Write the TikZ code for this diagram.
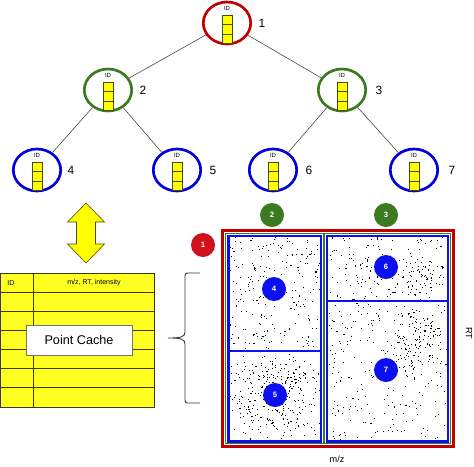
\documentclass[tikz,border=0pt]{standalone}
\usepackage{fontspec}
\setmainfont{Liberation Sans}
\usetikzlibrary{positioning, shapes.geometric}
\usepackage{xcolor}

\definecolor{rootred}{HTML}{C00000}
\definecolor{innergreen}{HTML}{3B7A1F}
\definecolor{leafblue}{HTML}{0000DD}
\definecolor{cellyellow}{HTML}{FFFF00}
\definecolor{celledge}{HTML}{4A4A00}
\definecolor{tableyellow}{HTML}{FFFF22}
\definecolor{badgered}{HTML}{D0101A}
\definecolor{mapblue}{HTML}{0A10F0}

\begin{document}
\begin{tikzpicture}[
    x=0.5mm, y=-0.5mm,
    tree node/.style={ellipse, draw, line width=3.8pt, fill=white, minimum width=23.7mm, minimum height=21mm, inner sep=0pt},
    root node/.style={tree node, draw=rootred},
    inner node/.style={tree node, draw=innergreen},
    leaf node/.style={tree node, draw=leafblue},
    tree label/.style={font=\fontsize{17}{18}\selectfont},
    tree edge/.style={draw=black!75, line width=0.8pt},
    cell/.style={draw=celledge, fill=cellyellow, line width=0.6pt},
    table line/.style={draw=celledge!80!black, line width=1pt},
    badge/.style={circle, minimum size=12mm, inner sep=0pt, text=white, font=\bfseries\fontsize{11}{12}\selectfont},
    badge red/.style={badge, fill=badgered},
    badge green/.style={badge, fill=innergreen},
    badge blue/.style={badge, fill=mapblue},
    region/.style={draw=mapblue, line width=4pt},
    dot/.style={fill=black}
]
    \useasboundingbox (0,0) rectangle (474,466);

    % --- Tree ---
    \node[root node]  (N1) at (227,23) {};
    \node[inner node] (N2) at (108,90) {};
    \node[inner node] (N3) at (342,90) {};
    \node[leaf node]  (N4) at (37,170) {};
    \node[leaf node]  (N5) at (177,170) {};
    \node[leaf node]  (N6) at (273,170) {};
    \node[leaf node]  (N7) at (414,170) {};

    \draw[tree edge] (N1) -- (N2);
    \draw[tree edge] (N1) -- (N3);
    \draw[tree edge] (N2) -- (N4);
    \draw[tree edge] (N2) -- (N5);
    \draw[tree edge] (N3) -- (N6);
    \draw[tree edge] (N3) -- (N7);

    \foreach \n in {N1,N2,N3,N4,N5,N6,N7} {
        \node[font=\fontsize{8.5}{9}\selectfont, inner sep=0pt] (\n id) at ([yshift=7.5mm]\n.center) {ID};
        \foreach \k in {0,1,2}
            \draw[cell] (\n.center) ++(-5,{-8+9.4*\k}) rectangle ++(10,9.4);
    }

    \node[tree label] (L1) at (262,23) {1};
    \node[tree label] (L2) at (143,90) {2};
    \node[tree label] (L3) at (379,90) {3};
    \node[tree label] (L4) at (71,170) {4};
    \node[tree label] (L5) at (213,170) {5};
    \node[tree label] (L6) at (309,170) {6};
    \node[tree label] (L7) at (452,170) {7};

    % --- Double arrow ---
    \draw[fill=cellyellow, draw=celledge, line width=0.8pt]
        (86,203) -- (104.5,222) -- (95.5,222) -- (95.5,244) -- (104.5,244) -- (86,263)
        -- (67.5,244) -- (76.5,244) -- (76.5,222) -- (67.5,222) -- cycle;

    % --- Point cache table ---
    \fill[tableyellow] (0,273) rectangle (155,407);
    \foreach \r in {0,...,7}
        \draw[table line] (0,{273+19.14*\r}) -- (155,{273+19.14*\r});
    \draw[table line] (0.5,273) -- (0.5,407);
    \draw[table line] (33,273) -- (33,407);
    \draw[table line] (154.5,273) -- (154.5,407);

    \node[font=\fontsize{10}{11}\selectfont] (idhead) at (11,283) {ID};
    \node[font=\fontsize{10}{11}\selectfont] (colhead) at (94,283) {m/z, RT, intensity};
    \node[draw=black!55, fill=white, line width=0.8pt, minimum width=53mm, minimum height=15mm,
          font=\fontsize{18}{20}\selectfont] (cache) at (79,340) {Point Cache};

    % --- Brace ---
    \coordinate (bt) at (200,273);
    \coordinate (bb) at (200,403);
    \coordinate (btip) at (168,338);
    \draw[black!80, line width=1.2pt]
        (bt) -- (190,273) .. controls (185,273) .. (185,279) -- (185,332)
        .. controls (185,337) and (181,338) .. (btip)
        .. controls (181,338) and (185,339) .. (185,344) -- (185,397)
        .. controls (185,403) .. (190,403) -- (bb);

    % --- RT / m/z map ---
    \pgfmathsetseed{2718}
    % region 4
    \foreach \i in {1,...,220} {
        \pgfmathsetmacro\dx{229+90*rnd}
        \pgfmathsetmacro\dy{237+112*rnd}
        \fill[dot] (\dx,\dy) rectangle ++(1.05,1.05);
    }
    % region 5
    \foreach \i in {1,...,110} {
        \pgfmathsetmacro\dx{229+90*rnd}
        \pgfmathsetmacro\dy{353+86*rnd}
        \fill[dot] (\dx,\dy) rectangle ++(1.05,1.05);
    }
    \foreach \i in {1,...,220} {
        \pgfmathsetmacro\dx{273+45*(rand+rand)/2}
        \pgfmathsetmacro\dy{394+42*(rand+rand)/2}
        \fill[dot] (\dx,\dy) rectangle ++(1.05,1.05);
    }
    % region 6
    \foreach \i in {1,...,140} {
        \pgfmathsetmacro\dx{329+117*rnd}
        \pgfmathsetmacro\dy{237+62*rnd}
        \fill[dot] (\dx,\dy) rectangle ++(1.05,1.05);
    }
    \foreach \i in {1,...,50} {
        \pgfmathsetmacro\dx{420+25*(rand+rand)/2}
        \pgfmathsetmacro\dy{275+22*(rand+rand)/2}
        \fill[dot] (\dx,\dy) rectangle ++(1.05,1.05);
    }
    % region 7
    \foreach \i in {1,...,250} {
        \pgfmathsetmacro\dx{329+117*rnd}
        \pgfmathsetmacro\dy{303+136*rnd}
        \fill[dot] (\dx,\dy) rectangle ++(1.05,1.05);
    }
    \foreach \i in {1,...,110} {
        \pgfmathsetmacro\dx{418+28*(rand+rand)/2}
        \pgfmathsetmacro\dy{345+40*(rand+rand)/2}
        \fill[dot] (\dx,\dy) rectangle ++(1.05,1.05);
    }

    \draw[rootred, line width=4.3pt] (222.5,230.5) rectangle (453.5,446.5);
    \draw[innergreen, line width=2.2pt] (225.5,233.5) rectangle (450.5,443.5);
    \draw[innergreen, line width=2.2pt] (324,233.5) -- (324,443.5);
    \draw[region] (228.5,236) rectangle (321,351);
    \draw[region] (228.5,351) rectangle (321,441.5);
    \draw[region] (327,236) rectangle (448,301);
    \draw[region] (327,301) rectangle (448,441.5);

    \node[badge red]   (B1) at (203,245) {1};
    \node[badge green] (B2) at (272,215) {2};
    \node[badge green] (B3) at (386,215) {3};
    \node[badge blue]  (B4) at (274,289) {4};
    \node[badge blue]  (B5) at (275,395) {5};
    \node[badge blue]  (B6) at (386,267) {6};
    \node[badge blue]  (B7) at (386,370) {7};

    \node[font=\fontsize{13}{14}\selectfont, inner sep=0pt] (mz) at (337,459) {m/z};
    \node[font=\fontsize{13}{14}\selectfont, rotate=-90] (rt) at (469,333) {RT};
\end{tikzpicture}
\end{document}
